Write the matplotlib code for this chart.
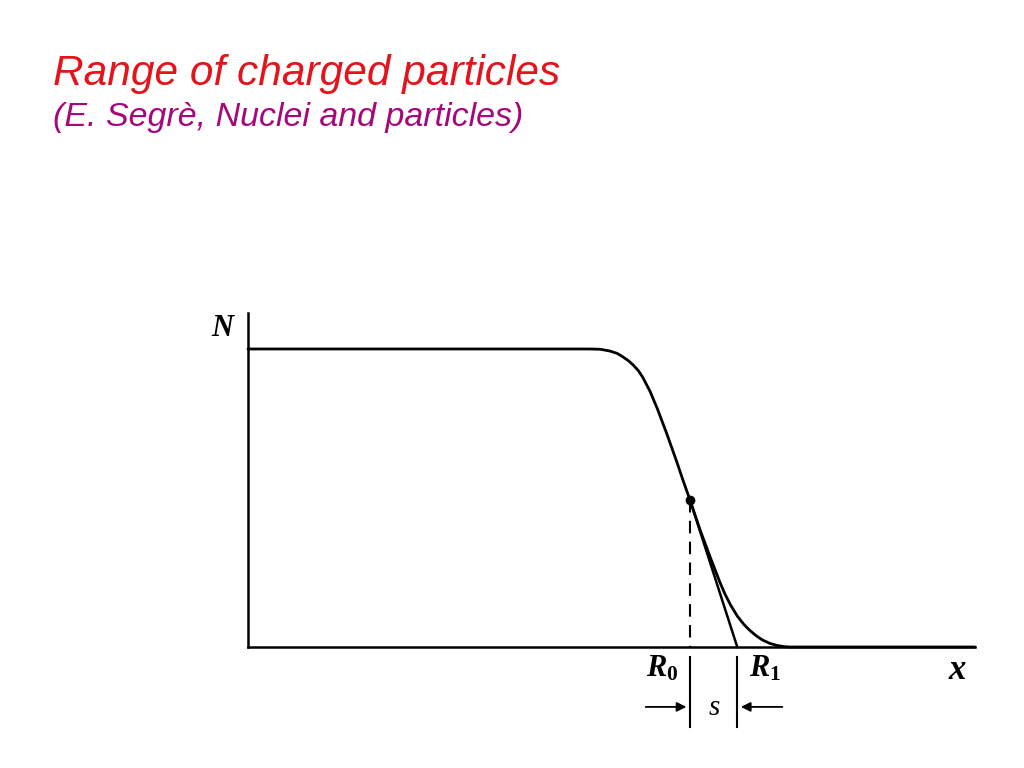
import matplotlib
matplotlib.use("Agg")
import matplotlib.pyplot as plt

# ---- data (schematic: number of particles N vs depth x) ----
curve_x = [0.0, 4.70, 4.85, 4.98, 5.08, 5.16, 5.23, 5.30, 5.37, 5.43, 5.53, 5.63,
           5.76, 5.90, 5.98, 6.08, 6.22, 6.36, 6.49, 6.56, 6.64, 6.73, 6.82, 6.91,
           7.00, 7.08, 7.18, 7.28, 7.38, 7.46, 10.0]
curve_n = [1.0, 1.0, 0.999, 0.993, 0.985, 0.973, 0.961, 0.946, 0.927, 0.905, 0.858, 0.800,
           0.716, 0.620, 0.562, 0.493, 0.392, 0.300, 0.218, 0.178, 0.140, 0.104, 0.076, 0.054,
           0.036, 0.023, 0.012, 0.005, 0.001, 0.0, 0.0]
R0 = 6.08          # mean range (N = N0/2)
N_half = 0.493
R1 = 6.73          # extrapolated range (tangent intercept)
x_max = 10.0
n_top = 1.12

plt.rcParams['mathtext.fontset'] = 'custom'
plt.rcParams['mathtext.rm'] = 'Liberation Serif:bold'
plt.rcParams['mathtext.it'] = 'Liberation Serif:bold:italic'
plt.rcParams['mathtext.bf'] = 'Liberation Serif:bold'

fig = plt.figure(figsize=(10.24, 7.68), dpi=100)
ax = fig.add_axes([0, 0, 1, 1])
ax.set_xlim(-3.411, 10.674)
ax.set_ylim(-0.406, 2.171)
ax.axis('off')

lw = 2.0
# axes of the diagram
ax.plot([0, 0], [0, n_top], color='black', lw=1.8)
ax.plot([0, x_max], [0, 0], color='black', lw=1.8)
# curve
ax.plot(curve_x, curve_n, color='black', lw=lw, solid_capstyle='round', solid_joinstyle='round')
# point at R0
ax.plot([R0], [N_half], 'o', color='black', ms=6)
# tangent
ax.plot([R0, R1], [N_half, 0], color='black', lw=1.8)
# dashed vertical
ax.plot([R0, R0], [N_half, 0], color='black', lw=1.5, ls=(0, (6, 4)))

# bracket lines for s
ax.plot([R0, R0], [-0.034, -0.268], color='black', lw=1.5)
ax.plot([R1, R1], [-0.034, -0.268], color='black', lw=1.5)
ax.annotate('', xy=(R0 - 0.05, -0.201), xytext=(R0 - 0.61, -0.201),
            arrowprops=dict(arrowstyle='-|>', color='black', lw=1.3, mutation_scale=14,
                            shrinkA=0, shrinkB=0))
ax.annotate('', xy=(R1 + 0.05, -0.201), xytext=(R1 + 0.62, -0.201),
            arrowprops=dict(arrowstyle='-|>', color='black', lw=1.3, mutation_scale=14,
                            shrinkA=0, shrinkB=0))

serif = dict(family='Liberation Serif', weight='bold', style='italic')
ax.text(-0.36, 1.07, 'N', fontsize=22, ha='center', va='center', **serif)
ax.text(5.70, -0.072, r'$R_{0}$', fontsize=22, ha='center', va='center')
ax.text(7.11, -0.072, r'$R_{1}$', fontsize=22, ha='center', va='center')
ax.text(9.76, -0.078, 'x', fontsize=25, ha='center', va='center', **serif)
ax.text(6.41, -0.205, 's', fontsize=21, ha='center', va='center',
        family='Liberation Serif', style='italic')

# titles
fig.text(53/1024, 1 - 85/768, 'Range of charged particles', fontsize=30.5,
         family='Liberation Sans', style='italic', color='#E3141B', ha='left', va='baseline')
fig.text(53/1024, 1 - 126/768, '(E. Segrè, Nuclei and particles)', fontsize=24.5,
         family='Liberation Sans', style='italic', color='#A5087A', ha='left', va='baseline')

fig.savefig('out.png', dpi=100, facecolor='white')
